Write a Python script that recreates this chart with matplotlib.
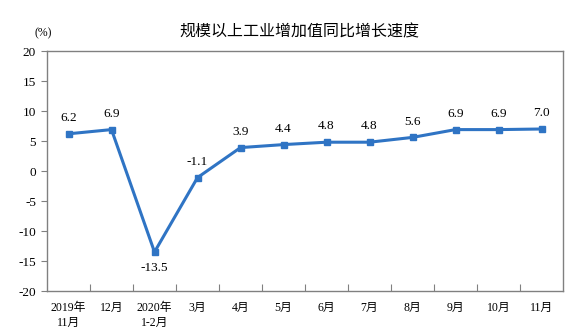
import matplotlib
matplotlib.use("Agg")
import matplotlib.pyplot as plt

plt.rcParams['font.family'] = ['Liberation Serif', 'Noto Sans CJK SC']

months = ["2019年\n11月", "12月", "2020年\n1-2月", "3月", "4月", "5月",
          "6月", "7月", "8月", "9月", "10月", "11月"]
growth = [6.2, 6.9, -13.5, -1.1, 3.9, 4.4, 4.8, 4.8, 5.6, 6.9, 6.9, 7.0]
yticks = [20, 15, 10, 5, 0, -5, -10, -15, -20]

fig = plt.figure(figsize=(5.76, 3.36), dpi=100)
ax = fig.add_axes([47 / 576, 1 - 291 / 336, 516 / 576, 240 / 336])

x = list(range(len(growth)))
ax.plot(x, growth, color="#2f74c4", linewidth=2.2, marker="s", markersize=4)

for xi, v in zip(x, growth):
    if v < -5:
        ax.annotate(f"{v:.1f}", (xi, v), xytext=(0, -7), textcoords="offset points",
                    ha="center", va="top", fontsize=9.5)
    else:
        ax.annotate(f"{v:.1f}", (xi, v), xytext=(0, 7), textcoords="offset points",
                    ha="center", va="bottom", fontsize=9.5)

ax.set_xlim(-0.5, len(growth) - 0.5)
ax.set_ylim(-20, 20)
ax.set_yticks(yticks)
ax.set_yticklabels([str(t) for t in yticks], fontsize=9.5)
ax.set_xticks([i + 0.5 for i in range(len(growth) - 1)])
ax.set_xticklabels([])
ax.set_xticks(x, minor=True)
ax.set_xticklabels(months, minor=True, fontsize=8.5, linespacing=1.3)
ax.tick_params(axis="x", which="minor", length=0, pad=8)
ax.tick_params(axis="x", which="major", direction="in", length=5, color="#808080")
ax.tick_params(axis="y", direction="out", length=4, color="#808080", pad=4)

for s in ax.spines.values():
    s.set_color("#808080")
    s.set_linewidth(1)

fig.text(299 / 576, 1 - 32 / 336, "规模以上工业增加值同比增长速度",
         ha="center", va="center", fontsize=11.5, family=["Noto Sans CJK SC"])
fig.text(43 / 576, 1 - 33 / 336, "(%)", ha="center", va="center", fontsize=8.5)

fig.savefig("out.png", dpi=100)
